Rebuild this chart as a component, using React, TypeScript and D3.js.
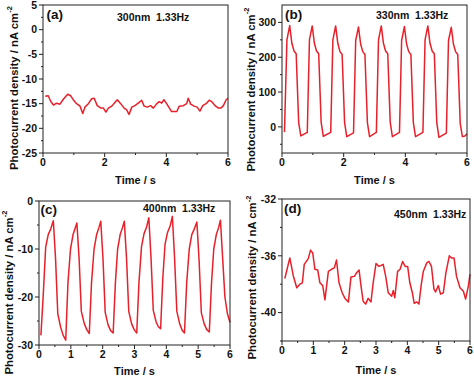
import React from "react";
import * as d3 from "d3";

const W = 474;
const H = 376;
const RED = "#e8202a";
const FONT = "'Liberation Sans', Arial, sans-serif";

// Panel (a) 300 nm
const dataA: [number, number][] = [
  [0.07, -13.5], [0.17, -13.4], [0.25, -14.5], [0.34, -15.3], [0.44, -14.9], [0.55, -15.1],
  [0.66, -14.1], [0.8, -13.1], [0.9, -13.4], [0.98, -14.2], [1.09, -15.0], [1.2, -15.5],
  [1.29, -17.0], [1.36, -15.7], [1.47, -15.0], [1.58, -14.0], [1.66, -13.9], [1.76, -15.4],
  [1.88, -15.9], [1.96, -15.9], [2.04, -16.7], [2.12, -15.9], [2.23, -15.5], [2.34, -14.7],
  [2.41, -14.2], [2.52, -15.0], [2.63, -15.9], [2.71, -16.2], [2.79, -17.2], [2.88, -15.7],
  [2.98, -15.4], [3.09, -14.9], [3.2, -14.3], [3.28, -15.5], [3.38, -15.7], [3.49, -15.4],
  [3.58, -15.9], [3.69, -15.0], [3.77, -14.6], [3.85, -14.9], [3.92, -14.2], [4.01, -15.0],
  [4.1, -15.9], [4.17, -16.6], [4.34, -16.6], [4.42, -15.5], [4.55, -15.4], [4.66, -15.0],
  [4.71, -13.9], [4.79, -15.1], [4.9, -15.5], [5.0, -15.7], [5.09, -16.5], [5.18, -15.4],
  [5.29, -15.0], [5.39, -14.3], [5.49, -14.7], [5.58, -15.4], [5.69, -15.9], [5.77, -15.9],
  [5.85, -15.4], [5.94, -14.2], [6.0, -13.9],
];

// Panel (b) 330 nm
const dataB: [number, number][] = [
  [0.08, -15], [0.16, 250], [0.25, 291], [0.32, 240], [0.39, 218], [0.46, 210], [0.54, 13], [0.61, -26],
  [0.82, -16], [0.89, 250], [0.98, 290], [1.05, 240], [1.12, 218], [1.19, 210], [1.27, 13], [1.34, -27],
  [1.58, -16], [1.65, 250], [1.74, 290], [1.81, 240], [1.88, 216], [1.95, 208], [2.03, 12], [2.1, -28],
  [2.32, -17], [2.39, 248], [2.48, 287], [2.55, 238], [2.62, 216], [2.69, 208], [2.77, 12], [2.84, -28],
  [3.06, -16], [3.13, 250], [3.22, 290], [3.29, 240], [3.36, 218], [3.43, 210], [3.51, 13], [3.58, -28],
  [3.81, -16], [3.88, 248], [3.97, 288], [4.04, 238], [4.11, 216], [4.18, 208], [4.26, 12], [4.33, -28],
  [4.57, -16], [4.64, 250], [4.73, 290], [4.8, 240], [4.87, 218], [4.94, 210], [5.02, 12], [5.09, -30],
  [5.33, -18], [5.4, 248], [5.49, 286], [5.56, 238], [5.63, 216], [5.7, 208], [5.78, 10], [5.85, -28],
  [5.93, -26], [6.0, -20],
];

// Panel (c) 400 nm
const dataC: [number, number][] = [
  [0.06, -28], [0.13, -20], [0.21, -9.6], [0.29, -7], [0.37, -5.8], [0.45, -4.1],
  [0.52, -12], [0.59, -23.5], [0.68, -26.3], [0.76, -28], [0.84, -29],
  [0.91, -17], [0.99, -10], [1.07, -7], [1.13, -5.8], [1.19, -4.6],
  [1.26, -12], [1.33, -23], [1.42, -25.5], [1.5, -26.8], [1.58, -27.6],
  [1.65, -17], [1.73, -10], [1.81, -7], [1.88, -5.6], [1.94, -4.2],
  [2.01, -12], [2.08, -23.2], [2.17, -25.8], [2.25, -27], [2.33, -27.5],
  [2.4, -17], [2.47, -10], [2.55, -7], [2.62, -5.6], [2.68, -4.2],
  [2.75, -12], [2.82, -23], [2.91, -25.6], [2.99, -26.8], [3.07, -27.5],
  [3.14, -17], [3.22, -9.5], [3.3, -6.8], [3.38, -5.4], [3.45, -3.5],
  [3.52, -12], [3.59, -22.8], [3.68, -25.2], [3.75, -26.2], [3.82, -26.6],
  [3.89, -16], [3.96, -9], [4.04, -6.5], [4.12, -5.2], [4.19, -3.2],
  [4.26, -12], [4.33, -23], [4.42, -25.6], [4.5, -27], [4.57, -27.5],
  [4.64, -17], [4.72, -10], [4.8, -7], [4.88, -5.8], [4.96, -4.4],
  [5.03, -12.5], [5.1, -23.3], [5.19, -25.6], [5.27, -26.8], [5.35, -27.3],
  [5.42, -17], [5.49, -10], [5.57, -7], [5.64, -5.6], [5.7, -4.0],
  [5.77, -12], [5.84, -20], [5.92, -23.5], [6.0, -25.3],
];

// Panel (d) 450 nm
const dataD: [number, number][] = [
  [0.09, -37.6], [0.25, -36.15], [0.36, -37.4], [0.47, -38.25], [0.57, -38.0], [0.65, -37.9],
  [0.71, -36.6], [0.84, -36.2], [0.91, -35.6], [0.98, -35.8], [1.05, -36.95], [1.14, -37.0],
  [1.21, -37.9], [1.3, -38.1], [1.37, -39.1], [1.48, -37.1], [1.58, -36.95], [1.67, -36.85],
  [1.74, -36.3], [1.82, -37.9], [1.92, -38.6], [2.01, -39.0], [2.12, -39.25], [2.2, -37.5],
  [2.31, -37.45], [2.38, -37.2], [2.46, -37.0], [2.52, -38.1], [2.59, -39.2], [2.67, -39.4],
  [2.75, -39.0], [2.84, -39.25], [2.91, -37.9], [3.0, -36.55], [3.1, -36.75], [3.23, -36.6],
  [3.31, -37.45], [3.39, -38.6], [3.5, -38.85], [3.55, -38.45], [3.6, -38.95], [3.69, -37.1],
  [3.77, -36.95], [3.85, -36.4], [3.93, -36.75], [4.01, -36.75], [4.08, -37.9], [4.16, -38.6],
  [4.22, -39.35], [4.3, -39.25], [4.37, -39.4], [4.44, -38.1], [4.51, -37.1], [4.62, -36.5],
  [4.69, -36.4], [4.77, -36.75], [4.85, -38.35], [4.9, -38.55], [4.99, -38.1], [5.06, -38.7],
  [5.15, -38.6], [5.23, -37.2], [5.34, -36.0], [5.41, -36.15], [5.49, -36.15], [5.57, -37.45],
  [5.68, -38.25], [5.79, -38.5], [5.86, -39.05], [5.95, -38.1], [6.0, -37.3],
];

const xTicksAB = [0, 2, 4, 6];
const xMinorAB = [1, 3, 5];
const xTicksCD = [0, 1, 2, 3, 4, 5, 6];
const xMinorCD = [0.5, 1.5, 2.5, 3.5, 4.5, 5.5];
const yTicksA = [5, 0, -5, -10, -15, -20, -25];
const yMinorA = [2.5, -2.5, -7.5, -12.5, -17.5, -22.5];
const yTicksB = [0, 100, 200, 300];
const yMinorB = [-50, 50, 150, 250];
const yTicksC = [0, -10, -20, -30];
const yMinorC = [-5, -15, -25];
const yTicksD = [-32, -36, -40];
const yMinorD = [-34, -38, -42];

type PanelProps = {
  box: { l: number; r: number; t: number; b: number };
  xDomain: [number, number];
  yDomain: [number, number];
  xTicks: number[];
  xMinor: number[];
  yTicks: number[];
  yMinor: number[];
  data: [number, number][];
  tag: string;
  tagPos: [number, number];
  info: string;
  infoPos: [number, number];
  yLabelPos: [number, number];
  xLabelY: number;
};

function Panel(p: PanelProps) {
  const { box } = p;
  const x = d3.scaleLinear().domain(p.xDomain).range([box.l, box.r]);
  const y = d3.scaleLinear().domain(p.yDomain).range([box.b, box.t]);
  const line = d3
    .line<[number, number]>()
    .x((d) => x(d[0]))
    .y((d) => y(d[1]));
  const fmt = (v: number) => String(v);
  return (
    <g fontFamily={FONT} fontWeight="bold" fill="#111">
      <path d={line(p.data) || ""} fill="none" stroke={RED} strokeWidth={1.5} strokeLinejoin="round" />
      <rect x={box.l} y={box.t} width={box.r - box.l} height={box.b - box.t} fill="none" stroke="#222" strokeWidth={1} />
      {p.xTicks.map((t) => (
        <g key={"xt" + t}>
          <line x1={x(t)} x2={x(t)} y1={box.b} y2={box.b + 4} stroke="#222" />
          <text x={x(t)} y={box.b + 12.5} fontSize={10.5} textAnchor="middle">{fmt(t)}</text>
        </g>
      ))}
      {p.xMinor.map((t) => (
        <line key={"xm" + t} x1={x(t)} x2={x(t)} y1={box.b} y2={box.b + 2} stroke="#222" />
      ))}
      {p.yTicks.map((t) => (
        <g key={"yt" + t}>
          <line x1={box.l - 4} x2={box.l} y1={y(t)} y2={y(t)} stroke="#222" />
          <text x={box.l - 6} y={y(t) + 3.7} fontSize={10.5} textAnchor="end">{fmt(t)}</text>
        </g>
      ))}
      {p.yMinor.map((t) => (
        <line key={"ym" + t} x1={box.l - 2} x2={box.l} y1={y(t)} y2={y(t)} stroke="#222" />
      ))}
      <text x={p.tagPos[0]} y={p.tagPos[1]} fontSize={13.5}>{p.tag}</text>
      <text x={p.infoPos[0]} y={p.infoPos[1]} fontSize={10.5} style={{ whiteSpace: "pre" }}>{p.info}</text>
      <text x={(box.l + box.r) / 2} y={p.xLabelY} fontSize={11} textAnchor="middle">Time / s</text>
      <text
        transform={`translate(${p.yLabelPos[0]},${p.yLabelPos[1]}) rotate(-90)`}
        fontSize={11.3}
        textAnchor="start"
        dominantBaseline="central"
      >
        Photocurrent density / nA cm
        <tspan fontSize={7.5} dy={-4.5}>-2</tspan>
      </text>
    </g>
  );
}

export default function App() {
  return (
    <svg width={W} height={H} style={{ position: "absolute", left: 0, top: 0, background: "#fff" }}>
      <rect width={W} height={H} fill="#fff" />
      <Panel
        box={{ l: 43, r: 228, t: 5, b: 153 }}
        xDomain={[0, 6]}
        yDomain={[-25, 5]}
        xTicks={xTicksAB}
        xMinor={xMinorAB}
        yTicks={yTicksA}
        yMinor={yMinorA}
        data={dataA}
        tag="(a)"
        tagPos={[46.5, 19]}
        info="300nm  1.33Hz"
        infoPos={[117, 20.5]}
        yLabelPos={[13.5, 170]}
        xLabelY={184}
      />
      <Panel
        box={{ l: 282, r: 467, t: 5, b: 153 }}
        xDomain={[0, 6]}
        yDomain={[-75, 350]}
        xTicks={xTicksAB}
        xMinor={xMinorAB}
        yTicks={yTicksB}
        yMinor={yMinorB}
        data={dataB}
        tag="(b)"
        tagPos={[285, 19]}
        info="330nm  1.33Hz"
        infoPos={[376, 18.5]}
        yLabelPos={[250.5, 171.5]}
        xLabelY={184}
      />
      <Panel
        box={{ l: 39, r: 230, t: 201, b: 345 }}
        xDomain={[0, 6]}
        yDomain={[-30, 0]}
        xTicks={xTicksCD}
        xMinor={xMinorCD}
        yTicks={yTicksC}
        yMinor={yMinorC}
        data={dataC}
        tag="(c)"
        tagPos={[40.5, 214]}
        info="400nm  1.33Hz"
        infoPos={[143, 211.5]}
        yLabelPos={[8.5, 374.5]}
        xLabelY={375}
      />
      <Panel
        box={{ l: 282, r: 470, t: 199, b: 341 }}
        xDomain={[0, 6]}
        yDomain={[-42, -32]}
        xTicks={xTicksCD}
        xMinor={xMinorCD}
        yTicks={yTicksD}
        yMinor={yMinorD}
        data={dataD}
        tag="(d)"
        tagPos={[284, 212.5]}
        info="450nm  1.33Hz"
        infoPos={[394, 218]}
        yLabelPos={[252, 359.5]}
        xLabelY={374}
      />
    </svg>
  );
}
